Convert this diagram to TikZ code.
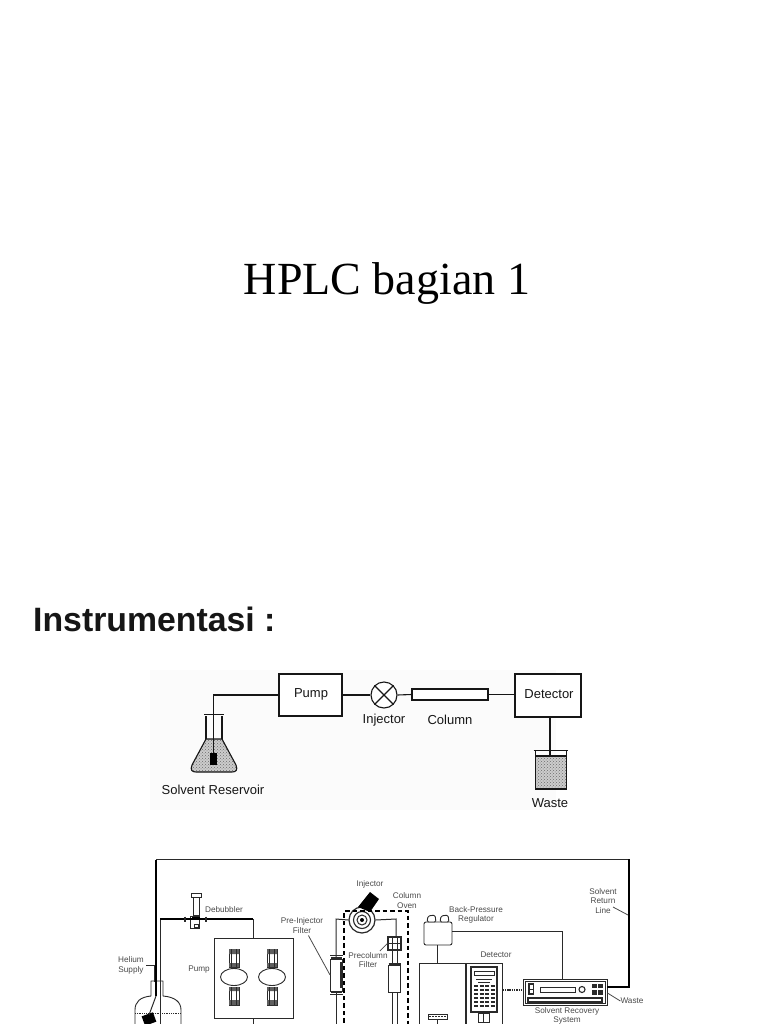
\documentclass[tikz,border=0pt]{standalone}
\usepackage{fontspec}
\setmainfont{Liberation Sans}
\newfontfamily\titlefont{Liberation Serif}
\usetikzlibrary{patterns}
\definecolor{ink}{HTML}{161616}
\definecolor{lowink}{HTML}{2A2A2A}
\definecolor{lab}{HTML}{4A4A4A}
\tikzset{
  x=1pt,y=-1pt,
  pline/.style={draw=ink,line width=1.1pt},
  box/.style={pline,rectangle,inner sep=0pt,fill=white},
  toplab/.style={text=ink,inner sep=0pt,font=\fontsize{13}{13}\selectfont},
  lowlab/.style={text=lab,inner sep=0pt,align=center,font=\fontsize{8.2}{9.5}\selectfont},
  stipple/.style={preaction={fill=gray!40},pattern=crosshatch dots,pattern color=gray!85!black},
  lline/.style={draw=lowink,line width=1pt},
  heavyline/.style={draw=black,line width=1.7pt},
  leader/.style={draw=lab,line width=.8pt},
  part/.style={draw=lowink,line width=.9pt,fill=white,rectangle,inner sep=0pt},
  blackpart/.style={fill=black,draw=none,rectangle,inner sep=0pt},
}
\begin{document}
\begin{tikzpicture}
\useasboundingbox (0,0) rectangle (768,1024);
\begin{scope}
\clip (0,0) rectangle (768,1024);
\fill[white] (0,0) rectangle (768,1024);
\fill[black!1.5] (150,670) rectangle (556,810);

\node[anchor=base,inner sep=0pt,text=black] (title) at (387,294) {\titlefont\fontsize{46}{46}\selectfont HPLC bagian 1};
\node[anchor=base west,inner sep=0pt,text=ink] (heading) at (33,631) {\fontsize{33.8}{34}\selectfont\bfseries Instrumentasi :};

% ---- upper schematic
\node[box,minimum width=63pt,minimum height=42pt] (pump) at (310.5,695) {};
\node[toplab] (pumpT) at (311,694) {Pump};
\node[box,circle,minimum size=26pt] (inj) at (384,695) {};
\draw[pline] (inj.45) -- (inj.225) (inj.135) -- (inj.315);
\node[toplab] (injT) at (384,720) {Injector};
\node[box,minimum width=76pt,minimum height=11pt] (col) at (450,694.5) {};
\node[toplab] (colT) at (450,720) {Column};
\node[box,minimum width=66pt,minimum height=43pt] (det) at (548,695.5) {};
\node[toplab] (detT) at (549,694) {Detector};
\draw[pline] (pump.east) -- (inj.west);
\draw[pline] (inj.east) -- (col.west);
\draw[pline] (col.east) -- (col.east -| det.west);

% flask
\path[draw=ink,line width=1.1pt,stipple,line join=round]
  (206,739) -- (192,765) .. controls (190,770) and (192,772) .. (196,772) -- (232,772)
  .. controls (236,772) and (238,770) .. (236,765) -- (222,739) -- cycle;
\draw[pline] (206,739) -- (206,716) (222,739) -- (222,716);
\draw[pline] (204,714.5) -- (224,714.5);
\node[blackpart,minimum width=6.5pt,minimum height=12pt] (dip) at (213.5,759) {};
\draw[pline] (pump.west) -| (dip.north);
\node[toplab] (flaskT) at (213,790) {Solvent Reservoir};

% beaker
\path[draw=ink,line width=1.1pt,stipple] (535.5,756) rectangle (566.5,789);
\draw[pline] (535.5,756) -- (535.5,751) (566.5,756) -- (566.5,751);
\draw[pline] (533.5,750.5) -- (568,750.5);
\coordinate (beakerIn) at (550,755);
\draw[pline] (det.south -| beakerIn) -- (beakerIn);
\node[toplab] (wasteT) at (550,803) {Waste};

% ---- lower schematic
\coordinate (retA) at (156,1000);
\coordinate (retB) at (629,859);
\node[part,minimum width=84pt,minimum height=26pt] (rec) at (565,992) {};
\draw[lline] (retA) -- (156,859) -- (retB);
\draw[heavyline] (rec.east |- 0,987) -| (629,859);

% bottle
\path[part,line join=round] (151,996) -- (151,981) -- (163,981) -- (163,996)
  .. controls (175,997) and (181,1002) .. (181,1010) -- (181,1030) -- (135,1030) -- (135,1010)
  .. controls (135,1002) and (140,997) .. (151,996) -- cycle;
\draw[lowink,line width=.8pt,densely dotted] (135,1013) -- (181,1013);
\node[blackpart,minimum width=12pt,minimum height=10pt,rotate=20] (sparger) at (149,1019) {};
\draw[heavyline] (156,860) -- (156,996);
\draw[lline] (156,996) -- (149,1015);

% debubbler
\node[part,minimum width=9pt,minimum height=12pt] (deb) at (195,922.5) {};
\node[part,minimum width=6pt,minimum height=18pt] (debstem) at (196,906) {};
\node[part,minimum width=10pt,minimum height=4pt] (debcap) at (196,895) {};
\node[blackpart,minimum width=8pt,minimum height=3pt] (debb) at (196,918) {};
\draw[part,fill=none] (194,924) rectangle (198,927);

\node[part,minimum width=79pt,minimum height=80pt] (pumpbox) at (253.5,978) {};
\coordinate (pipeIn) at (160,1030);
\coordinate (pumpTop) at (253,919);
\draw[lline] (pipeIn) -- (160,919);
\draw[heavyline] (160,919) -- (pumpTop);
\draw[lline] (pumpTop) -- (pumpbox.north -| pumpTop);
\draw[lline] (pumpbox.south -| pumpTop) -- (253,1030);
\draw[lowink,line width=1.3pt] (185,916.5) -- (185,921.5) (206,916.5) -- (206,921.5);

% pump heads
\foreach \n/\cx in {a/234,b/272}{
  \node[part,minimum width=10pt,minimum height=18pt] (fu\n) at (\cx,958) {};
  \node[part,minimum width=10pt,minimum height=18pt] (fd\n) at (\cx,996) {};
  \fill[lowink!75] (\cx-5,949) rectangle (\cx+5,954) (\cx-5,963) rectangle (\cx+5,967)
                   (\cx-5,987) rectangle (\cx+5,991) (\cx-5,1000) rectangle (\cx+5,1005);
  \draw[lowink,line width=1.6pt] (\cx-2.5,949) -- (\cx-2.5,967) (\cx+2.5,949) -- (\cx+2.5,967)
                                  (\cx-2.5,987) -- (\cx-2.5,1005) (\cx+2.5,987) -- (\cx+2.5,1005);
  \draw[part] (\cx,977) ellipse [x radius=13.5,y radius=8.5];
}

% pre-injector filter
\node[part,minimum width=12pt,minimum height=32pt] (pif) at (336.5,975) {};
\draw[lowink,line width=1.2pt] (331,958) -- (342,958) (331,992) -- (342,992);
\draw[lowink,line width=1.2pt] (330,955.5) -- (343,955.5) (330,994.5) -- (343,994.5);
\draw[lowink,line width=1.4pt] (341,962) -- (341,988);

% injector
\node[part,circle,minimum size=26pt,line width=1.2pt] (valve) at (362,920) {};
\draw[lowink,line width=1.1pt] (valve.center) circle [radius=8.5];
\draw[lowink,line width=1pt] (valve.center) circle [radius=5];
\fill[black] (valve.center) circle [radius=2];
\fill[black] (358,907) -- (370,892) -- (379,899) -- (370,912) -- cycle;

% column oven
\draw[black,line width=1.7pt,dash pattern=on 4.5pt off 3pt] (344,1030) -- (344,911) -- (408,911) -- (408,1030);

% precolumn
\node[part,minimum width=13pt,minimum height=13pt,line width=1.2pt] (pcf) at (394.5,943.5) {};
\draw[lowink,line width=1.4pt] (388,943.5) -- (402,943.5);
\draw[lowink,line width=1pt] (392,937) -- (392,950) (397,937) -- (397,950);
\node[part,minimum width=5pt,minimum height=13pt] (pcn) at (394.5,956.5) {};
\node[part,minimum width=12pt,minimum height=27pt,line width=1.2pt] (pcc) at (394.5,979) {};
\draw[lowink,line width=1.5pt] (388.5,964) -- (400.5,964);

\draw[lline] (pif.north -| 336,0) -- (336,919) -- (valve.west);
\draw[lline] (pif.south -| 336,0) -- (336,1030);
\draw[lline] (valve.east) -- (396,919) -- (pcf.north -| 396,0);
\draw[lline] (392,993) -- (392,1030) (397.5,993) -- (397.5,1030);

% back-pressure regulator
\node[part,rounded corners=2pt,minimum width=28pt,minimum height=23pt] (bpr) at (438,933.5) {};
\draw[part,rounded corners=1.5pt] (427,922) -- (428,916) -- (435,915) -- (436,922) -- cycle;
\draw[part,rounded corners=1.5pt] (440,922) -- (441,916) -- (448,915) -- (449,922) -- cycle;

% detector
\node[part,minimum width=83pt,minimum height=70pt] (dbox) at (460.5,998) {};
\draw[lowink,line width=1.6pt] (466,963) -- (466,1033);
\node[part,line width=1.2pt,minimum width=26pt,minimum height=45pt] (dpanel) at (484,989.5) {};
\draw[part] (474,971) rectangle (494,975);
\draw[lowink,line width=.8pt] (476,979) -- (492,979) (478,982) -- (490,982);
\foreach \yy in {986,990,994,998,1002,1006}{
  \draw[lowink,line width=1.4pt,dash pattern=on 4pt off 1.5pt] (474,\yy) -- (495,\yy);
}
\node[part,minimum width=11pt,minimum height=9pt] (dfoot) at (483.5,1017.5) {};
\draw[lowink,line width=1pt] (483.5,1013) -- (483.5,1022);
\node[part,minimum width=19pt,minimum height=5pt] (dslot) at (437.5,1016.5) {};
\draw[lowink,line width=1pt,dash pattern=on 2pt off 1pt] (429,1016.5) -- (446,1016.5);
\draw[lline] (bpr.south -| 437,0) -- (dbox.north -| 437,0);
\draw[lowink,line width=1pt] (437,1020) -- (437,1030);
\draw[lline] (bpr.east |- 0,931) -- (562,931) -- (rec.north -| 562,0);
\draw[lowink,line width=2.4pt,dash pattern=on 1.5pt off .8pt] (dbox.east |- 0,990) -- (rec.west |- 0,990);

% recovery system
\draw[part] (525,981) rectangle (605,1003);
\draw[part,line width=1.2pt] (529,984) rectangle (533.5,994);
\draw[lowink,line width=1pt] (529,989) -- (533.5,989);
\draw[part] (540,987) rectangle (575,992);
\draw[part,line width=1.1pt] (582,989.5) circle [radius=3];
\foreach \bx in {592,598}{
  \foreach \cy in {986,992.5}{
    \fill[lowink] (\bx,\cy-2.3) rectangle (\bx+4.5,\cy+2.3);
  }
}
\draw[part,line width=1.1pt] (528,998) rectangle (602,1002);

% labels and leaders
\node[lowlab] (tDeb) at (224,910) {Debubbler};
\node[lowlab] (tPump) at (199,970) {Pump};
\node[lowlab] (tHel) at (131,965.5) {Helium\\Supply};
\coordinate (helA) at (146,965); \coordinate (helB) at (154,965); \coordinate (helC) at (154,982);
\draw[lline,line width=.9pt] (helA) -- (helB) -- (helC);
\node[lowlab] (tPre) at (302,925.5) {Pre-Injector\\Filter};
\draw[leader] (tPre.south east) ++(-15,2) -- (pif.west);
\node[lowlab] (tInj) at (370,884) {Injector};
\node[lowlab] (tOven) at (407,900.5) {Column\\Oven};
\node[lowlab] (tPc) at (368,960) {Precolumn\\Filter};
\draw[leader] (tPc.north east) ++(-8,-1) -- (pcf.west);
\node[lowlab] (tBack) at (476,915) {Back-Pressure\\Regulator};
\node[lowlab] (tDet) at (496,955) {Detector};
\node[lowlab] (tRet) at (603,901) {Solvent\\Return\\Line};
\coordinate (retLead) at (628,915);
\draw[leader] (613,907) -- (retLead);
\node[lowlab] (tWaste) at (632,1001) {Waste};
\draw[leader] (rec.east |- 0,993) -- (tWaste.west);
\node[lowlab] (tRec) at (567,1016) {Solvent Recovery\\System};
\end{scope}
\end{tikzpicture}
\end{document}
